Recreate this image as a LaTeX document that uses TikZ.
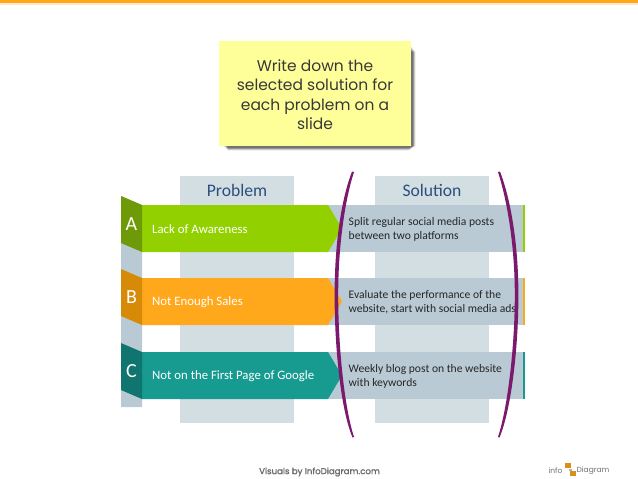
\documentclass[tikz,border=0pt]{standalone}
\usepackage{fontspec}
\setmainfont{Carlito}
\newfontfamily\gothicfont{Poppins}
\newfontfamily\footfont{Poppins}[FakeBold=1.5]
\definecolor{colbg}{HTML}{D3DEE3}
\definecolor{rowbg}{HTML}{B9CAD4}
\definecolor{headtxt}{HTML}{2A4F7C}
\definecolor{greenM}{HTML}{92D000}
\definecolor{greenD}{HTML}{6F9A08}
\definecolor{orangeM}{HTML}{FFA81C}
\definecolor{orangeD}{HTML}{D68A08}
\definecolor{tealM}{HTML}{179A8F}
\definecolor{tealD}{HTML}{10756E}
\definecolor{purp}{HTML}{7B1A6C}
\definecolor{notey}{HTML}{FFFF99}
\tikzset{
  x=1pt,y=-1pt,
  column/.style={fill=colbg,draw=none,minimum width=114pt,minimum height=247pt,inner sep=0},
  headtext/.style={text=headtxt,font=\fontsize{17.6}{20}\selectfont,inner sep=0},
  tabletter/.style={text=white,font=\fontsize{20}{22}\selectfont,inner sep=0},
  probtext/.style={text=white,font=\fontsize{12.8}{15}\selectfont,inner sep=0,anchor=west},
  soltext/.style={text=black!85,font=\fontsize{11.6}{14}\selectfont,inner sep=0,anchor=west,align=left},
  notetext/.style={text=black!78,font=\gothicfont\fontsize{15.5}{19.4}\selectfont,inner sep=0,align=center},
  bracket/.style={fill=purp,draw=none},
}
\begin{document}
\begin{tikzpicture}
\useasboundingbox (0,0) rectangle (638,479);
\fill[white] (0,0) rectangle (638,479);
\fill[orangeM!25!white] (0,2) rectangle (638,5);
\fill[orangeM] (0,0) rectangle (638,2.8);
% sticky note
\foreach \d/\o in {6/.06,5/.08,4/.10,3/.13,2/.16,1/.2}{
  \fill[black,opacity=\o] (226-\d,143) -- (411,143) -- (411,52-\d) -- (412.5+\d*.5,52) -- (412.5+\d*.5,146) -- (409,147.5+\d*.5) -- (228,147.5+\d*.5) -- cycle;
}
\node[fill=notey,minimum width=192pt,minimum height=105pt,inner sep=0] (note) at (315,93.5) {};
\node[notetext] (notet) at (315,94.5) {Write down the\\selected solution for\\each problem on a\\slide};
% columns
\node[column] (colP) at (237,299.5) {};
\node[column] (colS) at (432,299.5) {};
\node[headtext] (headP) at (237,190) {Problem};
\node[headtext] (headS) at (432,190) {Solution};
% grey strips left
\fill[rowbg] (121,196) -- (142,205) -- (142,407) -- (121,407) -- cycle;
\foreach \y/\m/\d/\l/\t/\s in {
  205/greenM/greenD/A/Lack of Awareness/{Split regular social media posts\\between two platforms},
  278/orangeM/orangeD/B/Not Enough Sales/{Evaluate the performance of the\\website, start with social media ads},
  352/tealM/tealD/C/Not on the First Page of Google/{Weekly blog post on the website\\with keywords}}{
  \fill[rowbg] (325,\y) rectangle (522.5,\y+47);
  \fill[\m] (522.5,\y) rectangle (525,\y+47);
  \fill[\m] (142,\y) -- (328,\y) -- (342,\y+23.5) -- (328,\y+47) -- (142,\y+47) -- cycle;
  \fill[\d] (121,\y-9) -- (142,\y) -- (142,\y+47) -- (121,\y+38) -- cycle;
  \node[tabletter] at (131.5,\y+19) {\l};
  \node[probtext] at (152,\y+24) {\t};
  \node[soltext] at (348.5,\y+24.5) {\s};
}
% brackets
\fill[bracket] (352,171.5) .. controls (341,200) and (334.6,245) .. (334.6,295)
  .. controls (334.6,350) and (341,410) .. (352.5,437.5)
  -- (354,437)
  .. controls (345,410) and (338.2,350) .. (338.2,295)
  .. controls (338.2,245) and (345,200) .. (354,172) -- cycle;
\fill[bracket] (500,171.5) .. controls (511,200) and (518.4,245) .. (518.4,295)
  .. controls (518.4,350) and (511,410) .. (499.5,437.5)
  -- (498,437)
  .. controls (507,410) and (514.8,350) .. (514.8,295)
  .. controls (514.8,245) and (507,200) .. (498,172) -- cycle;
% footer
\node[text=black!58,font=\footfont\fontsize{8.6}{10}\selectfont,inner sep=0] (foot) at (319.5,472) {Visuals by InfoDiagram.com};
\node[text=black!55,font=\gothicfont\fontsize{7.5}{8}\selectfont,inner sep=0] (logoA) at (555.5,471) {info};
\node[text=black!55,font=\gothicfont\fontsize{7.5}{8}\selectfont,inner sep=0] (logoB) at (593,471) {Diagram};
\fill[orangeM!85!black] (565,463) rectangle (571,468);
\fill[orangeM!85!black] (570,471) rectangle (576,476);
\fill[black!30] (568.5,468.5) rectangle (571.5,471);
\end{tikzpicture}
\end{document}
